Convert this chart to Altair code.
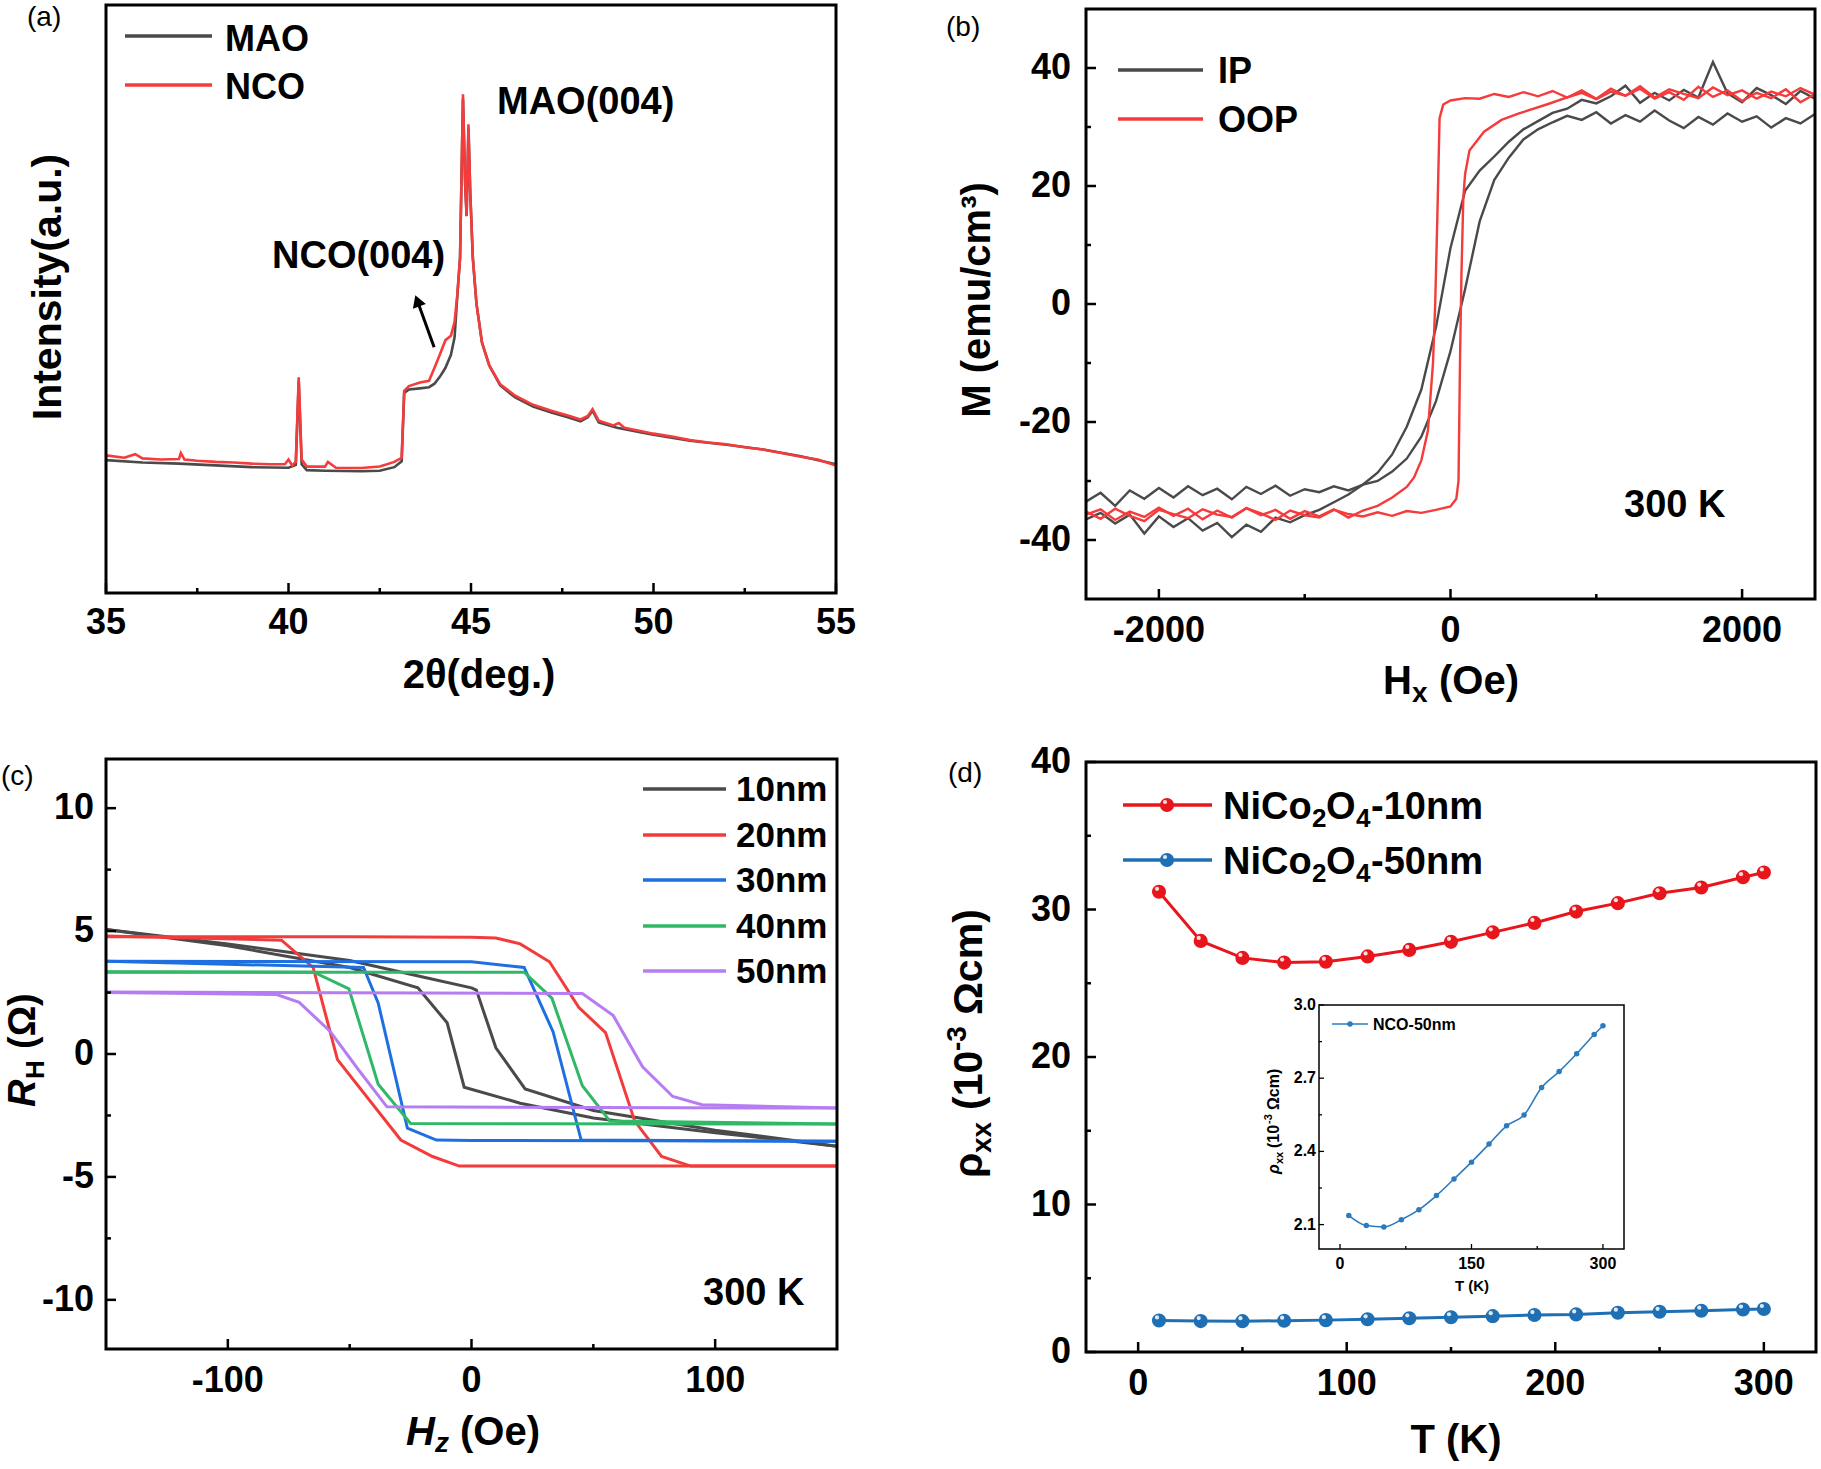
import altair as alt
import pandas as pd

# ------------------------------------------------------------------ data
# (a) XRD 2theta scans
NCO_2THETA = [35.0, 35.5, 35.8, 36.0, 36.5, 37.0, 37.05, 37.15, 37.5, 38.0, 38.5, 39.0, 39.5, 39.9,
              40.0, 40.1, 40.2, 40.28, 40.36, 40.5, 41.0, 41.08, 41.3, 42.0, 42.5, 42.9, 43.1, 43.17,
              43.3, 43.6, 43.85, 44.0, 44.15, 44.3, 44.45, 44.55, 44.62, 44.7, 44.78, 44.84, 44.88,
              44.93, 44.98, 45.05, 45.15, 45.3, 45.5, 45.8, 46.2, 46.7, 47.2, 47.7, 48.0, 48.2, 48.33,
              48.5, 48.9, 49.05, 49.2, 49.6, 50.0, 50.5, 51.0, 51.5, 52.0, 52.5, 53.0, 53.5, 54.0,
              54.5, 55.0]
NCO_INT = [23.4, 23.0, 23.6, 22.9, 22.7, 22.8, 23.8, 22.7, 22.5, 22.3, 22.2, 22.0, 21.9, 21.9,
           22.7, 21.7, 22.3, 36.7, 22.7, 21.5, 21.5, 22.3, 21.3, 21.25, 21.5, 22.3, 23.0, 34.4,
           35.2, 35.8, 36.1, 38.3, 40.6, 43.0, 43.75, 46.1, 50.4, 57.0, 84.8, 69.5, 64.1,
           79.7, 68.0, 57.0, 49.2, 42.6, 38.7, 35.5, 33.6, 32.0, 31.0, 30.1, 29.5, 30.1, 31.25,
           29.3, 28.5, 28.9, 28.1, 27.6, 27.1, 26.6, 26.0, 25.6, 25.3, 24.8, 24.4, 23.8, 23.2,
           22.7, 21.7]
MAO_2THETA = [35.0, 36.0, 37.0, 38.0, 39.0, 40.0, 40.2, 40.28, 40.36, 40.5, 41.0, 42.0, 42.5, 42.9,
              43.1, 43.17, 43.3, 43.6, 43.85, 44.0, 44.15, 44.3, 44.45, 44.55, 44.62, 44.7, 44.78,
              44.84, 44.88, 44.93, 44.98, 45.05, 45.15, 45.3, 45.5, 45.8, 46.2, 46.7, 47.2, 47.7,
              48.0, 48.2, 48.33, 48.5, 49.0, 49.6, 50.0, 51.0, 52.0, 53.0, 54.0, 55.0]
MAO_INT = [22.6, 22.2, 22.0, 21.7, 21.4, 21.3, 21.8, 36.0, 21.9, 20.9, 20.8, 20.7, 20.8, 21.4,
           22.4, 34.0, 34.6, 34.8, 35.0, 35.6, 36.8, 38.3, 40.5, 43.5, 50.0, 57.0, 84.0,
           69.5, 64.1, 79.0, 68.0, 57.0, 49.2, 42.6, 38.7, 35.3, 33.3, 31.7, 30.7, 29.8,
           29.2, 29.9, 31.0, 29.0, 28.1, 27.4, 26.9, 25.9, 25.2, 24.4, 23.3, 21.9]
ARROW_TAIL = [43.99, 41.8]
ARROW_HEAD = [43.53, 49.7]

# (b) M-H loops, field sweeps in Oe
H_SWEEP = [2500, 2400, 2300, 2200, 2100, 2000, 1900, 1800, 1700, 1600, 1500, 1400, 1300, 1200,
           1100, 1000, 900, 800, 700, 600, 500, 400, 300, 200, 100, 0, -100, -200, -300, -400,
           -500, -600, -700, -800, -900, -1000, -1100, -1200, -1300, -1400, -1500, -1600, -1700,
           -1800, -1900, -2000, -2100, -2200, -2300, -2400, -2500]
IP_DOWN_M = [34.8, 36.1, 33.9, 35.4, 36.6, 34.2, 35.7, 41.0, 35.0, 36.3, 34.5, 35.8, 34.1, 37.0,
             35.2, 34.0, 34.6, 33.1, 32.4, 31.0, 29.6, 27.5, 25.0, 22.6, 19.2, 9.5, -4.0, -14.5,
             -20.8, -25.5, -28.6, -30.6, -32.3, -33.6, -34.9, -35.8, -37.0, -36.2, -38.6, -37.4,
             -39.5, -37.1, -38.4, -36.3, -37.8, -36.0, -38.9, -35.7, -37.2, -35.4, -36.5]
IP_UP_M = [-33.5, -32.0, -34.2, -31.6, -33.0, -31.2, -32.8, -30.9, -32.4, -31.3, -33.1, -31.0,
           -32.2, -30.8, -32.5, -31.4, -31.9, -30.9, -31.6, -30.6, -30.0, -28.4, -26.2, -22.5,
           -16.5, -8.0, 2.5, 14.0, 21.0, 24.8, 27.9, 29.6, 30.8, 31.9, 31.2, 32.5, 30.6, 32.0,
           30.9, 32.8, 31.1, 29.8, 31.7, 30.4, 32.3, 30.9, 31.8, 29.9, 31.5, 30.6, 32.2]
OOP_DOWN_H = [2500, 2400, 2300, 2200, 2100, 2000, 1900, 1800, 1700, 1600, 1500, 1400, 1300, 1200,
              1100, 1000, 900, 800, 700, 600, 500, 400, 300, 200, 100, 0, -50, -75, -90, -105,
              -120, -155, -200, -250, -300, -400, -500, -600, -700, -800, -900, -1000, -1100,
              -1200, -1300, -1400, -1500, -1600, -1700, -1800, -1900, -2000, -2100, -2200, -2300,
              -2400, -2500]
OOP_DOWN_M = [35.6, 34.2, 36.4, 34.9, 35.8, 34.4, 36.2, 35.1, 36.8, 34.6, 35.9, 34.8, 36.5, 35.3,
              36.0, 34.7, 35.8, 35.0, 36.1, 35.2, 35.9, 35.1, 35.6, 34.8, 34.9, 34.5, 33.8, 31.5,
              15.0, 0.0, -10.0, -21.5, -26.5, -29.4, -31.0, -32.8, -34.2, -35.0, -36.2, -34.8,
              -36.0, -35.1, -36.4, -34.9, -35.8, -34.6, -36.2, -35.0, -36.5, -34.7, -35.9, -34.5,
              -36.1, -35.2, -36.6, -34.8, -35.7]
OOP_UP_H = [-2500, -2400, -2300, -2200, -2100, -2000, -1900, -1800, -1700, -1600, -1500, -1400,
            -1300, -1200, -1100, -1000, -900, -800, -700, -600, -500, -400, -300, -200, -100, 0,
            40, 55, 65, 75, 88, 100, 130, 230, 350, 470, 670, 800, 900, 1000, 1100, 1200, 1300,
            1400, 1500, 1600, 1700, 1800, 1900, 2000, 2100, 2200, 2300, 2400, 2500]
OOP_UP_M = [-35.2, -36.4, -34.7, -35.9, -36.8, -34.9, -35.6, -36.3, -34.8, -35.7, -36.1, -34.6,
            -35.5, -36.6, -35.0, -35.8, -36.2, -34.9, -35.6, -36.0, -35.3, -35.9, -35.1, -35.4,
            -34.9, -34.3, -33.0, -30.0, -10.0, 5.0, 18.0, 22.0, 26.0, 29.2, 31.2, 32.3, 33.9,
            35.0, 36.2, 34.8, 36.5, 35.3, 36.9, 35.0, 36.4, 35.6, 34.9, 36.7, 35.4, 36.2, 34.8,
            36.0, 35.2, 36.6, 35.5]

# (c) anomalous Hall loops, R_H (Ohm) vs H_z (Oe), two sweep branches per thickness
THICKNESS = ["10nm", "20nm", "30nm", "40nm", "50nm"]
C10_UP_H = [-150, -100, -50, -20, 0, 2, 10, 22, 50, 100, 150]
C10_UP_R = [5.06, 4.48, 3.8, 3.13, 2.69, 2.6, 0.25, -1.42, -2.3, -3.1, -3.75]
C10_DN_H = [150, 100, 50, 20, -3, -10, -22, -50, -100, -150]
C10_DN_R = [-3.75, -3.2, -2.6, -2.0, -1.35, 1.27, 2.69, 3.52, 4.4, 5.06]
C20_UP_H = [-150, -100, -50, 0, 10, 20, 32, 44, 55, 67, 78, 90, 150]
C20_UP_R = [4.77, 4.77, 4.77, 4.75, 4.72, 4.48, 3.75, 1.9, 0.87, -2.73, -4.17, -4.56, -4.56]
C20_DN_H = [150, 100, 50, 0, -5, -16, -29, -55, -65, -78, -150]
C20_DN_R = [-4.56, -4.56, -4.56, -4.56, -4.56, -4.17, -3.5, -0.23, 3.52, 4.63, 4.8]
C30_UP_H = [-150, 0, 21.6, 33.5, 45, 150]
C30_UP_R = [3.77, 3.75, 3.52, 0.9, -3.5, -3.55]
C30_DN_H = [150, 0, -14.4, -26.3, -38.3, -44.3, -150]
C30_DN_R = [-3.55, -3.52, -3.5, -3.02, 2.08, 3.52, 3.77]
C40_UP_H = [-150, 21.6, 33, 45.5, 56.8, 150]
C40_UP_R = [3.33, 3.33, 2.27, -1.29, -2.73, -2.85]
C40_DN_H = [150, -25, -38.3, -50.3, -64.7, -150]
C40_DN_R = [-2.85, -2.83, -1.23, 2.65, 3.33, 3.35]
C50_UP_H = [-150, 45.5, 58.2, 70.2, 82.6, 94.6, 150]
C50_UP_R = [2.52, 2.46, 1.56, -0.52, -1.73, -2.06, -2.2]
C50_DN_H = [150, -34.7, -46.7, -58, -70.7, -80, -150]
C50_DN_R = [-2.2, -2.15, -0.6, 0.92, 2.1, 2.42, 2.5]

# (d) resistivity vs temperature (10^-3 Ohm cm)
T_K = [10, 30, 50, 70, 90, 110, 130, 150, 170, 190, 210, 230, 250, 270, 290, 300]
RHO_10NM = [31.2, 27.87, 26.72, 26.4, 26.46, 26.82, 27.26, 27.81, 28.45, 29.09, 29.86, 30.43,
            31.1, 31.49, 32.19, 32.51]
RHO_50NM = [2.137, 2.096, 2.090, 2.12, 2.161, 2.219, 2.287, 2.356, 2.43, 2.505, 2.549, 2.662,
            2.727, 2.80, 2.879, 2.915]

# axis domains, tick values and tick labels
A_XDOM, A_YDOM = [35, 55], [0, 100]
A_XMAJ, A_XMIN = [35, 40, 45, 50, 55], [37.5, 42.5, 47.5, 52.5]
A_XLAB = ["35", "40", "45", "50", "55"]
B_XDOM, B_YDOM = [-2500, 2500], [-50, 50]
B_XMAJ, B_XMIN = [-2000, 0, 2000], [-1000, 1000]
B_XLAB = ["-2000", "0", "2000"]
B_YMAJ, B_YMIN = [-40, -20, 0, 20, 40], [-30, -10, 10, 30]
B_YLAB = ["-40", "-20", "0", "20", "40"]
C_XDOM, C_YDOM = [-150, 150], [-12, 12]
C_XMAJ, C_XMIN = [-100, 0, 100], [-50, 50]
C_XLAB = ["-100", "0", "100"]
C_YMAJ, C_YMIN = [-10, -5, 0, 5, 10], [-7.5, -2.5, 2.5, 7.5]
C_YLAB = ["-10", "-5", "0", "5", "10"]
D_XDOM, D_YDOM = [-25, 325], [0, 40]
D_XMAJ, D_XMIN = [0, 100, 200, 300], [50, 150, 250]
D_XLAB = ["0", "100", "200", "300"]
D_YMAJ, D_YMIN = [0, 10, 20, 30, 40], [5, 15, 25, 35]
D_YLAB = ["0", "10", "20", "30", "40"]
I_XDOM, I_YDOM = [-24, 324], [2.0, 3.0]
I_XMAJ, I_XMIN = [0, 150, 300], [75, 225]
I_XLAB = ["0", "150", "300"]
I_YMAJ, I_YMIN = [2.1, 2.4, 2.7, 3.0], [2.25, 2.55, 2.85]
I_YLAB = ["2.1", "2.4", "2.7", "3.0"]

# ------------------------------------------------------------------ layout
W, H = 1821, 1469
FONT = "Liberation Sans"
GRAY = "#4a4a4a"
RED = "#f53b3b"
C_COLORS = ["#4a4a4a", "#f23c3c", "#1f6fe0", "#30b866", "#b67cf2"]
D_RED, D_BLUE, I_BLUE = "#e8161c", "#1f6fb5", "#2b7bc0"

# pixel ranges of each plot area
A_XR, A_YR = [106, 836], [593, 5]
B_XR, B_YR = [1086, 1815], [599, 9]
C_XR, C_YR = [106, 837], [1349, 759]
D_XR, D_YR = [1086, 1816], [1352, 762]
I_XR, I_YR = [1319, 1624], [1249, 1005]

ONE = alt.Data(values=[{}])


def scales(xdom, xr, ydom, yr):
    return (alt.Scale(domain=xdom, range=xr, nice=False, zero=False),
            alt.Scale(domain=ydom, range=yr, nice=False, zero=False))


def x_labels(vals, labs, xs, ys, y0, size, pad):
    df = pd.DataFrame({"v": vals, "s": labs})
    return alt.Chart(df).mark_text(
        font=FONT, fontSize=size, fontWeight="bold", color="black", align="center",
        baseline="top", dy=pad).encode(
        x=alt.X("v:Q", scale=xs, axis=None),
        y=alt.YDatum(y0, type="quantitative", scale=ys, axis=None),
        text="s:N")


def y_labels(vals, labs, xs, ys, x0, size, pad):
    df = pd.DataFrame({"v": vals, "s": labs})
    return alt.Chart(df).mark_text(
        font=FONT, fontSize=size, fontWeight="bold", color="black", align="right",
        baseline="middle", dx=-pad).encode(
        y=alt.Y("v:Q", scale=ys, axis=None),
        x=alt.XDatum(x0, type="quantitative", scale=xs, axis=None),
        text="s:N")


def x_ticks(vals, xs, ys, y0, length, width):
    return alt.Chart(pd.DataFrame({"v": vals})).mark_rule(
        color="black", strokeWidth=width, y2Offset=-length).encode(
        x=alt.X("v:Q", scale=xs, axis=None),
        y=alt.YDatum(y0, type="quantitative", scale=ys, axis=None),
        y2=alt.Y2Datum(y0))


def y_ticks(vals, xs, ys, x0, length, width):
    return alt.Chart(pd.DataFrame({"v": vals})).mark_rule(
        color="black", strokeWidth=width, x2Offset=length).encode(
        y=alt.Y("v:Q", scale=ys, axis=None),
        x=alt.XDatum(x0, type="quantitative", scale=xs, axis=None),
        x2=alt.X2Datum(x0))


def frame(xs, ys, xdom, ydom, width):
    return alt.Chart(ONE).mark_rect(filled=False, color="black", strokeWidth=width).encode(
        x=alt.XDatum(xdom[0], type="quantitative", scale=xs, axis=None),
        x2=alt.X2Datum(xdom[1]),
        y=alt.YDatum(ydom[0], type="quantitative", scale=ys, axis=None),
        y2=alt.Y2Datum(ydom[1]))


def curve(h, v, xs, ys, color, width, interp="linear"):
    df = pd.DataFrame({"h": h, "v": v, "i": list(range(len(h)))})
    return alt.Chart(df).mark_line(color=color, strokeWidth=width, interpolate=interp).encode(
        x=alt.X("h:Q", scale=xs, axis=None),
        y=alt.Y("v:Q", scale=ys, axis=None),
        order="i:Q")


def dots(h, v, xs, ys, color, size, highlight=False):
    df = pd.DataFrame({"h": h, "v": v})
    base = alt.Chart(df).encode(x=alt.X("h:Q", scale=xs, axis=None),
                                y=alt.Y("v:Q", scale=ys, axis=None))
    layers = [base.mark_point(filled=True, size=size, color=color, opacity=1)]
    if highlight:
        layers.append(base.mark_circle(size=18, color="white", opacity=0.85, xOffset=-2, yOffset=-3))
    return alt.layer(*layers)


def text(s, x, y, size, weight="bold", align="left", baseline="alphabetic", angle=0,
         style="normal"):
    return alt.Chart(ONE).mark_text(
        text=s, font=FONT, fontSize=size, fontWeight=weight, fontStyle=style, align=align,
        baseline=baseline, angle=angle, color="black").encode(x=alt.value(x), y=alt.value(y))


def swatch(x0, x1, y, color, width):
    return alt.Chart(ONE).mark_rule(color=color, strokeWidth=width).encode(
        x=alt.value(x0), x2=alt.value(x1), y=alt.value(y))


def ball(x, y, color, size, highlight=True):
    layers = [alt.Chart(ONE).mark_point(filled=True, size=size, color=color, opacity=1).encode(
        x=alt.value(x), y=alt.value(y))]
    if highlight:
        layers.append(alt.Chart(ONE).mark_circle(size=18, color="white", opacity=0.85).encode(
            x=alt.value(x - 2), y=alt.value(y - 3)))
    return layers


def frame_set(xs, ys, xdom, ydom, xmaj, xmin, xlab, ymaj, ymin, ylab,
              lab_size=36, xpad=15, ypad=15, major=10, minor=5, tw=2.5, fw=3):
    layers = [x_ticks(xmaj, xs, ys, ydom[0], major, tw),
              x_ticks(xmin, xs, ys, ydom[0], minor, tw),
              x_labels(xmaj, xlab, xs, ys, ydom[0], lab_size, xpad)]
    if ymaj:
        layers += [y_ticks(ymaj, xs, ys, xdom[0], major, tw),
                   y_ticks(ymin, xs, ys, xdom[0], minor, tw),
                   y_labels(ymaj, ylab, xs, ys, xdom[0], lab_size, ypad)]
    layers.append(frame(xs, ys, xdom, ydom, fw))
    return layers


# ------------------------------------------------------------------ (a) XRD
xa, ya = scales(A_XDOM, A_XR, A_YDOM, A_YR)
arrow_df = pd.DataFrame({"t": [ARROW_TAIL[0], ARROW_HEAD[0]], "v": [ARROW_TAIL[1], ARROW_HEAD[1]]})
panel_a = alt.layer(
    curve(MAO_2THETA, MAO_INT, xa, ya, GRAY, 2.6),
    curve(NCO_2THETA, NCO_INT, xa, ya, RED, 2.6),
    alt.Chart(arrow_df).mark_line(color="black", strokeWidth=3).encode(
        x=alt.X("t:Q", scale=xa, axis=None), y=alt.Y("v:Q", scale=ya, axis=None)),
    alt.Chart(pd.DataFrame({"t": [ARROW_HEAD[0]], "v": [ARROW_HEAD[1]]})).mark_point(
        shape="triangle-up", filled=True, size=190, color="black", opacity=1, angle=340).encode(
        x=alt.X("t:Q", scale=xa, axis=None), y=alt.Y("v:Q", scale=ya, axis=None)),
    *frame_set(xa, ya, A_XDOM, A_YDOM, A_XMAJ, A_XMIN, A_XLAB, [], [], [], xpad=13),
)

# ------------------------------------------------------------------ (b) M-H loops
xb, yb = scales(B_XDOM, B_XR, B_YDOM, B_YR)
panel_b = alt.layer(
    curve(H_SWEEP, IP_DOWN_M, xb, yb, GRAY, 2.4),
    curve(H_SWEEP[::-1], IP_UP_M, xb, yb, GRAY, 2.4),
    curve(OOP_DOWN_H, OOP_DOWN_M, xb, yb, RED, 2.4),
    curve(OOP_UP_H, OOP_UP_M, xb, yb, RED, 2.4),
    *frame_set(xb, yb, B_XDOM, B_YDOM, B_XMAJ, B_XMIN, B_XLAB, B_YMAJ, B_YMIN, B_YLAB,
               xpad=15, ypad=15),
)

# ------------------------------------------------------------------ (c) Hall loops
xc, yc = scales(C_XDOM, C_XR, C_YDOM, C_YR)
c_branches = [
    (C10_UP_H, C10_UP_R, C10_DN_H, C10_DN_R),
    (C20_UP_H, C20_UP_R, C20_DN_H, C20_DN_R),
    (C30_UP_H, C30_UP_R, C30_DN_H, C30_DN_R),
    (C40_UP_H, C40_UP_R, C40_DN_H, C40_DN_R),
    (C50_UP_H, C50_UP_R, C50_DN_H, C50_DN_R),
]
c_layers = []
for (uh, ur, dh, dr), col in zip(c_branches, C_COLORS):
    c_layers.append(curve(uh, ur, xc, yc, col, 3))
    c_layers.append(curve(dh, dr, xc, yc, col, 3))
panel_c = alt.layer(
    *c_layers,
    *frame_set(xc, yc, C_XDOM, C_YDOM, C_XMAJ, C_XMIN, C_XLAB, C_YMAJ, C_YMIN, C_YLAB,
               xpad=15, ypad=12),
)

# ------------------------------------------------------------------ (d) rho-T
xd, yd = scales(D_XDOM, D_XR, D_YDOM, D_YR)
panel_d = alt.layer(
    curve(T_K, RHO_10NM, xd, yd, D_RED, 3),
    curve(T_K, RHO_50NM, xd, yd, D_BLUE, 3),
    dots(T_K, RHO_10NM, xd, yd, D_RED, 200, highlight=True),
    dots(T_K, RHO_50NM, xd, yd, D_BLUE, 200, highlight=True),
    *frame_set(xd, yd, D_XDOM, D_YDOM, D_XMAJ, D_XMIN, D_XLAB, D_YMAJ, D_YMIN, D_YLAB,
               xpad=15, ypad=15),
)

# inset: 50 nm film on its own scale
xi, yi = scales(I_XDOM, I_XR, I_YDOM, I_YR)
panel_inset = alt.layer(
    curve(T_K, RHO_50NM, xi, yi, I_BLUE, 1.6, interp="monotone"),
    dots(T_K, RHO_50NM, xi, yi, I_BLUE, 30),
    *frame_set(xi, yi, I_XDOM, I_YDOM, I_XMAJ, I_XMIN, I_XLAB, I_YMAJ, I_YMIN, I_YLAB,
               lab_size=16, xpad=7, ypad=3, major=5, minor=3, tw=1.3, fw=1.5),
)

# ------------------------------------------------------------------ titles, legends, notes
labels = [
    # panel tags
    text("(a)", 27, 26, 28, weight="normal"),
    text("(b)", 946, 36, 28, weight="normal"),
    text("(c)", 1, 785, 28, weight="normal"),
    text("(d)", 948, 782, 28, weight="normal"),

    # (a)
    text("Intensity(a.u.)", 61, 287, 41, align="center", angle=270),
    text("2\u03b8(deg.)", 479, 688, 40, align="center"),
    swatch(125, 212, 36, GRAY, 3.5), text("MAO", 225, 51, 36),
    swatch(125, 212, 85, RED, 3.5), text("NCO", 225, 99, 36),
    text("MAO(004)", 497, 114, 38),
    text("NCO(004)", 272, 268, 38),

    # (b)
    text("M (emu/cm\u00b3)", 990, 300, 40, align="center", angle=270),
    text("H", 1383, 694, 40), text("x", 1412, 702, 28), text("(Oe)", 1439, 694, 40),
    swatch(1118, 1203, 70, GRAY, 3.5), text("IP", 1218, 83, 36),
    swatch(1118, 1203, 119, RED, 3.5), text("OOP", 1218, 132, 36),
    text("300 K", 1624, 517, 38),

    # (c)
    text("R", 35, 1107, 38, angle=270, style="italic"),
    text("H", 44, 1079, 26, angle=270),
    text("(\u03a9)", 35, 1049, 38, angle=270),
    text("H", 406, 1445, 40, style="italic"),
    text("z", 435, 1452, 28, style="italic"),
    text("(Oe)", 460, 1445, 40),
    text("300 K", 703, 1305, 38),

    # (d)
    text("\u03c1", 982, 1178, 41, angle=270),
    text("xx", 991, 1153, 28, angle=270),
    text("(10", 982, 1110, 41, angle=270),
    text("-3", 966, 1051, 28, angle=270),
    text("\u03a9cm)", 982, 1015, 41, angle=270),
    text("T (K)", 1456, 1453, 40, align="center"),

    # inset titles and legend
    text("T (K)", 1472, 1291, 15, align="center"),
    text("\u03c1", 1279, 1174, 16, angle=270, style="italic"),
    text("xx", 1283, 1164, 11, angle=270),
    text("(10", 1279, 1148, 16, angle=270),
    text("-3", 1272, 1124, 11, angle=270),
    text("\u03a9cm)", 1279, 1110, 16, angle=270),
    swatch(1332, 1368, 1024, I_BLUE, 1.6),
    text("NCO-50nm", 1373, 1030, 16),
]
labels += [alt.Chart(ONE).mark_point(filled=True, size=30, color=I_BLUE, opacity=1).encode(
    x=alt.value(1350), y=alt.value(1024))]

# (c) legend
for k, (name, col) in enumerate(zip(THICKNESS, C_COLORS)):
    y_line = [789, 835, 880, 926, 971][k]
    labels += [swatch(643, 726, y_line, col, 3.5), text(name, 736, y_line + 12, 35)]

# (d) legend with NiCo2O4 formula
for y_line, col, suffix in [(805, D_RED, "-10nm"), (860, D_BLUE, "-50nm")]:
    base = y_line + 14
    labels += [swatch(1123, 1212, y_line, col, 3.5)]
    labels += ball(1167, y_line, col, 200)
    labels += [text("NiCo", 1223, base, 38), text("2", 1312, base + 8, 26),
               text("O", 1326, base, 38), text("4", 1356, base + 8, 26),
               text(suffix, 1371, base, 38)]

chart = alt.layer(panel_a, panel_b, panel_c, panel_d, panel_inset, *labels).resolve_scale(
    x="independent", y="independent"
).properties(
    width=W, height=H, autosize=alt.AutoSizeParams(type="none"), padding=0, background="white"
).configure_view(strokeWidth=0)

chart.save("out.html", embed_options={"renderer": "svg", "actions": False})
